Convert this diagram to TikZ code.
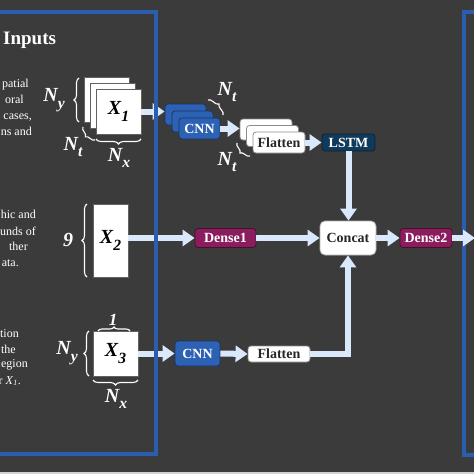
\documentclass[tikz,border=0pt]{standalone}
\usepackage{fontspec}
\setmainfont{Liberation Serif}
\usepackage{xcolor}
\usetikzlibrary{arrows.meta}
\usetikzlibrary{decorations.pathreplacing, calc, math}

\definecolor{bgdark}{HTML}{3B3B3B}
\definecolor{panelblue}{HTML}{2B5EAE}
\definecolor{flowblue}{HTML}{DAE8FC}
\definecolor{cnnblue}{HTML}{2D61B4}
\definecolor{lstmnavy}{HTML}{0F3A5B}
\definecolor{densepurple}{HTML}{8B1D5F}

\newcommand{\idx}[1]{\raisebox{-0.32em}{\scalebox{0.78}{#1}}}

\tikzset{
  layer/.style={rounded corners=3pt, inner sep=0pt, minimum height=21pt, line width=0.8pt,
    font=\fontsize{14}{14}\selectfont\bfseries},
  cnn/.style={layer, fill=cnnblue, draw=cnnblue!55!black, text=white, minimum width=41pt},
  flat/.style={layer, fill=white, draw=black!45, text=black!85, minimum width=52pt},
  lstm/.style={layer, fill=lstmnavy, draw=lstmnavy!60!black, text=white, minimum width=53pt, minimum height=17pt},
  dense/.style={layer, fill=densepurple, draw=densepurple!50!black, text=white, minimum height=19pt},
  concat/.style={layer, fill=white, draw=black!30, text=black!85, minimum width=56pt, minimum height=34pt, rounded corners=5pt},
  inp/.style={fill=white, draw=bgdark!80, line width=0.7pt, inner sep=0pt,
    font=\fontsize{20}{20}\selectfont\bfseries\itshape},
  flow/.style={flowblue, line width=6pt, -{Triangle[length=12pt,width=16pt]}},
  brc/.style={white, line width=1.1pt, decorate, decoration={brace, amplitude=5pt}},
  dim/.style={text=white, inner sep=0pt, font=\fontsize{20}{20}\selectfont\bfseries\itshape},
  desc/.style={text=white, inner sep=0pt, anchor=base east, font=\fontsize{12}{15}\selectfont},
}

\begin{document}
\begin{tikzpicture}[x=1pt, y=-1pt]
\tikzmath{
\d=6;
\row=238;
}
\useasboundingbox (0,0) rectangle (474,474);
\clip (0,0) rectangle (474,474);
\fill[bgdark] (0,0) rectangle (474,474);
\fill[black!18] (0,472) rectangle (474,474);

% output panel
\draw[panelblue, line width=4.5pt] (490,12) -- (464,12) -- (464,455) -- (490,455);

% inputs
\node[inp, minimum size=45pt] (x1c) at (118.5-2*\d,111.5-2*\d) {};
\node[inp, minimum size=45pt] (x1b) at (118.5-\d,111.5-\d) {};
\node[inp, minimum size=45pt] (x1a) at (118.5,111.5) {X\idx{1}};
\node[inp, minimum width=35pt, minimum height=73pt] (x2) at (110.5,240.5) {X\idx{2}};
\node[inp, minimum size=45pt] (x3) at (115.5,353.5) {X\idx{3}};

\draw[brc] (79,122) -- (79,78);
\draw[brc] (141,139) -- (96,139);
\draw[brc] (95,140) -- (83,127);
\node[dim] (ny1) at (54,100) {N\idx{y}};
\node[dim] (nx1) at (119,158) {N\idx{x}};
\node[dim] (nt1) at (73,147) {N\idx{t}};

\draw[brc] (87,277) -- (87,204);
\node[dim] (nine) at (68,240) {9};

\draw[brc, decoration={amplitude=4pt}] (98,331) -- (130,331);
\draw[brc] (89,376) -- (89,331);
\draw[brc] (138,380) -- (93,380);
\node[dim, font=\fontsize{17}{17}\selectfont\bfseries\itshape] (one) at (113,320) {1};
\node[dim] (ny3) at (67,353) {N\idx{y}};
\node[dim] (nx3) at (116,399) {N\idx{x}};

% branch 1
\node[cnn] (cnn3) at (185.5,114.5) {};
\node[cnn] (cnn2) at (192.5,121.5) {};
\node[cnn] (cnn1) at (199.5,128.5) {CNN};
\draw[brc] (208,100) -- (223,115);
\node[dim] (nt2) at (227,92) {N\idx{t}};

\node[flat] (flat3) at (266,129.5) {};
\node[flat] (flat2) at (272.5,136) {};
\node[flat] (flat1) at (279,142.5) {Flatten};
\draw[brc] (250,156) -- (237,143);
\node[dim] (nt3) at (227,162) {N\idx{t}};

\node[lstm] (lstm) at (348.5,142.5) {LSTM};

% merge
\node[concat] (concat) at (348,\row) {Concat};
\node[dense, minimum width=61pt] (d1) at (225.5,\row) {Dense1};
\node[dense, minimum width=52pt] (d2) at (426,\row) {Dense2};
\coordinate (out) at (475,\row);

% branch 3
\node[cnn, minimum width=45pt, minimum height=25pt] (cnnb) at (197.5,353.5) {CNN};
\node[flat, minimum width=62pt, minimum height=16pt] (flatb) at (279,354) {Flatten};

% arrows
\draw[flow] (x1a.east) -- (x1a.east -| cnn3.west);
\draw[flow] (cnn1.east) -- (cnn1.east -| flat3.west);
\draw[flow] (flat1.east) -- (lstm.west);
\draw[flow] (lstm.south) -- (lstm.south |- concat.north);
\draw[flow] (x2.east |- d1.west) -- (d1.west);
\draw[flow] (d1.east) -- (concat.west);
\draw[flow] (concat.east) -- (d2.west);
\draw[flow] (d2.east) -- (out);
\draw[flow] (x3.east) -- (cnnb.west);
\draw[flow] (cnnb.east) -- (flatb.west);
\draw[flow] (flatb.east) -| (concat.south);

% input panel
\draw[panelblue, line width=4.5pt] (-10,12) -- (156,12) -- (156,454) -- (-10,454);
\node[text=white, inner sep=0pt, anchor=base west, font=\fontsize{19}{19}\selectfont\bfseries] (title) at (3,44) {Inputs};

\node[desc] at (29,87) {patial};
\node[desc] at (24,103) {oral};
\node[desc] at (32,119) {cases,};
\node[desc] at (32,135) {ns and};

\node[desc] at (36,218) {hic and};
\node[desc] at (36,235) {unds of};
\node[desc] at (28,250) {ther};
\node[desc] at (19,266) {ata.};

\node[desc] at (19,337) {tion};
\node[desc] at (16,353) {the};
\node[desc] at (28,367) {egion};
\node[desc] at (21,384) {r \textit{X}\textsubscript{\textit{1}}.};
\end{tikzpicture}
\end{document}
